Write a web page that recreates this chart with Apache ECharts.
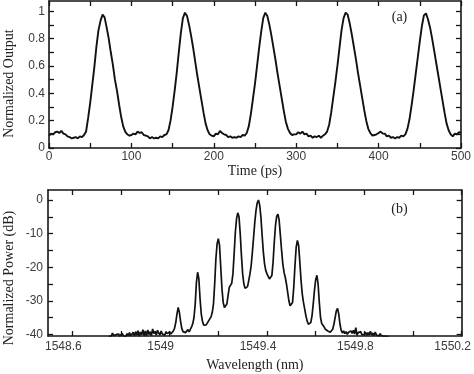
<!DOCTYPE html>
<html>
<head>
<meta charset="utf-8">
<script src="https://cdn.jsdelivr.net/npm/echarts@6/dist/echarts.min.js"></script>
<style>html,body{margin:0;padding:0;background:#fff;}#c{width:474px;height:374px;}</style>
</head>
<body>
<div id="c"></div>
<script>
// ---- (a) time trace ----
const timeStartPs = 0, timeStepPs = 2.5;
const outputNorm = [
0.09,0.105,0.10,0.115,0.12,0.11,0.125,0.105,0.10,0.085,
0.08,0.07,0.075,0.08,0.07,0.085,0.08,0.095,0.12,0.22,
0.33,0.46,0.59,0.74,0.86,0.93,0.975,0.955,0.88,0.80,
0.70,0.61,0.50,0.42,0.32,0.23,0.16,0.12,0.10,0.09,
0.095,0.105,0.10,0.12,0.11,0.115,0.095,0.09,0.085,0.07,
0.08,0.07,0.075,0.07,0.085,0.08,0.095,0.10,0.13,0.20,
0.30,0.42,0.55,0.70,0.84,0.95,0.99,0.965,0.90,0.82,
0.73,0.63,0.53,0.44,0.35,0.26,0.18,0.13,0.10,0.09,
0.085,0.105,0.10,0.125,0.11,0.10,0.095,0.08,0.085,0.075,
0.08,0.075,0.085,0.08,0.095,0.09,0.11,0.16,0.25,0.36,
0.47,0.60,0.73,0.85,0.95,0.99,0.965,0.90,0.82,0.73,
0.64,0.54,0.45,0.36,0.27,0.19,0.14,0.11,0.095,0.10,
0.10,0.115,0.105,0.12,0.10,0.105,0.085,0.09,0.075,0.085,
0.08,0.09,0.075,0.09,0.10,0.12,0.17,0.26,0.37,0.48,
0.60,0.73,0.86,0.95,0.99,0.975,0.91,0.83,0.74,0.65,
0.55,0.46,0.37,0.28,0.20,0.14,0.11,0.09,0.095,0.10,
0.11,0.12,0.105,0.105,0.085,0.09,0.075,0.08,0.07,0.08,
0.075,0.09,0.085,0.10,0.14,0.21,0.31,0.42,0.54,0.66,
0.78,0.89,0.97,0.985,0.94,0.88,0.80,0.71,0.62,0.53,
0.44,0.35,0.26,0.18,0.13,0.10,0.085,0.105,0.10,0.115,
0.11
];
// ---- (b) spectrum ----
const wlStartNm = 1548.75, wlStepNm = 0.005;
const powerDb = [
-40.6,-40.2,-40.5,-39.6,-40.4,-40.6,-40.1,-40.5,-39.9,-40.6,
-40.3,-39.7,-40.5,-40.0,-40.6,-39.8,-40.4,-39.5,-40.5,-40.1,
-39.4,-40.5,-39.2,-40.3,-38.9,-40.6,-39.3,-40.2,-38.6,-40.4,
-39.0,-40.5,-38.7,-40.1,-39.2,-40.4,-38.4,-39.8,-39.1,-40.3,
-38.8,-39.6,-40.2,-39.0,-39.9,-39.4,-40.3,-39.2,-39.8,-40.1,
-39.3,-39.9,-39.6,-39.0,-38.2,-36.5,-34.0,-32.0,-33.5,-36.2,
-38.3,-39.2,-38.7,-39.5,-39.0,-38.6,-39.3,-38.5,-37.8,-36.8,
-35.0,-31.0,-24.5,-21.5,-23.5,-29.5,-34.0,-36.2,-37.3,-37.6,
-37.2,-36.8,-36.0,-35.5,-34.8,-33.5,-31.0,-25.0,-17.5,-13.0,
-11.5,-13.5,-20.0,-26.5,-30.5,-32.0,-32.3,-31.0,-28.5,-26.0,
-25.5,-24.8,-22.0,-16.0,-9.5,-5.5,-3.8,-5.0,-10.0,-16.5,
-22.0,-25.0,-26.3,-26.5,-25.8,-24.0,-22.0,-19.5,-15.5,-11.0,
-6.5,-3.0,-0.8,0.0,-1.5,-5.0,-10.5,-15.5,-19.0,-21.0,
-22.0,-22.5,-23.5,-24.0,-22.5,-18.5,-12.5,-7.5,-4.8,-4.2,
-6.0,-10.5,-15.0,-19.0,-21.5,-23.0,-25.0,-27.5,-30.0,-31.5,
-31.8,-30.5,-26.0,-19.5,-14.0,-12.0,-13.5,-18.5,-24.0,-28.0,
-30.5,-32.5,-34.5,-36.0,-37.0,-37.3,-36.5,-34.5,-31.0,-27.0,
-23.8,-22.4,-25.0,-30.5,-35.0,-36.8,-37.2,-37.8,-38.5,-38.2,
-39.0,-38.6,-39.4,-39.0,-38.5,-37.0,-35.0,-33.0,-32.3,-34.0,
-37.0,-38.8,-39.6,-39.0,-39.8,-39.2,-40.0,-39.4,-39.9,-39.0,
-39.7,-38.8,-39.9,-38.0,-40.2,-39.5,-40.0,-39.2,-40.1,-39.6,
-40.0,-39.4,-40.3,-39.5,-40.2,-39.1,-40.3,-39.6,-40.4,-39.3,
-40.2,-39.7,-40.5,-39.8,-40.4,-40.0,-40.6,-40.2,-40.6,-40.5,
-40.7
];
// ---- ticks / labels ----
const timeTicks = [0,50,100,150,200,250,300,350,400,450,500];
const timeLabels = [0,100,200,300,400,500];
const outTicks = [0,0.1,0.2,0.3,0.4,0.5,0.6,0.7,0.8,0.9,1.0];
const outLabels = [0,0.2,0.4,0.6,0.8,1];
const wlTicks = [1548.6,1548.8,1549,1549.2,1549.4,1549.6,1549.8,1550,1550.2];
const wlLabels = [1548.6,1549,1549.4,1549.8,1550.2];
const dbTicks = [0,-5,-10,-15,-20,-25,-30,-35,-40];
const dbLabels = [0,-10,-20,-30,-40];

const traceA = outputNorm.map((v,i)=>[+(timeStartPs + i*timeStepPs).toFixed(3), v]);
const traceB = powerDb.map((v,i)=>[+(wlStartNm + i*wlStepNm).toFixed(4), v]);

const AX = '#151515';
function axis(gridIndex, position, min, max, ticks, labels, showLabels, labelExtra) {
  return {
    type:'value', gridIndex, position, min, max, scale:true,
    axisLine:{show:true, onZero:false, lineStyle:{color:AX, width:1.6}},
    axisTick:{show:true, inside:true, length:5, customValues:ticks, lineStyle:{color:AX, width:1.3}},
    axisLabel:Object.assign({show:showLabels, customValues:labels, color:'#3a3a3a',
      fontFamily:'Liberation Sans, Arial, sans-serif', fontSize:12,
      formatter:(v)=>String(v)}, labelExtra||{}),
    splitLine:{show:false}
  };
}

const chart = echarts.init(document.getElementById('c'), null, {renderer:'canvas'});
const serif = 'Liberation Serif, Times New Roman, serif';
const xa0 = axis(0,'bottom',0,500,timeTicks,timeLabels,true,{margin:3});
xa0.name = 'Time (ps)'; xa0.nameLocation='middle'; xa0.nameGap=9;
xa0.nameTextStyle = {fontFamily:serif, fontSize:14, color:'#222', verticalAlign:'top'};
const xa2 = axis(1,'bottom',1548.5,1550.2,wlTicks,wlLabels,true,{margin:5, padding:[0,18,0,0]});
xa2.name = 'Wavelength (nm)'; xa2.nameLocation='middle'; xa2.nameGap=22;
xa2.nameTextStyle = {fontFamily:serif, fontSize:14, color:'#222', verticalAlign:'top'};

chart.setOption({
  animation:false,
  backgroundColor:'#fff',
  grid:[
    {left:49, right:12, top:1, height:147},
    {left:48, right:12, top:190, height:146}
  ],
  xAxis:[
    xa0,
    axis(0,'top',0,500,timeTicks,[],false),
    xa2,
    axis(1,'top',1548.5,1550.2,wlTicks,[],false)
  ],
  yAxis:[
    axis(0,'left',0,1.075,outTicks,outLabels,true,{margin:4}),
    axis(0,'right',0,1.075,outTicks,[],false),
    axis(1,'left',-40.5,3,dbTicks,dbLabels,true,{margin:5}),
    axis(1,'right',-40.5,3,dbTicks,[],false)
  ],
  graphic:[
    {type:'text', x:9, y:83.5, rotation:Math.PI/2,
     style:{text:'Normalized Output', fontFamily:serif, fontSize:14, fill:'#222', align:'center', verticalAlign:'middle'}},
    {type:'text', x:9, y:278, rotation:Math.PI/2,
     style:{text:'Normalized Power (dB)', fontFamily:serif, fontSize:14, fill:'#222', align:'center', verticalAlign:'middle'}},
    {type:'text', x:399.5, y:17,
     style:{text:'(a)', fontFamily:serif, fontSize:14, fill:'#222', align:'center', verticalAlign:'middle'}},
    {type:'text', x:399.5, y:209,
     style:{text:'(b)', fontFamily:serif, fontSize:14, fill:'#222', align:'center', verticalAlign:'middle'}}
  ],
  series:[
    {type:'line', xAxisIndex:0, yAxisIndex:0, data:traceA, showSymbol:false, smooth:false,
     lineStyle:{color:'#111', width:1.9}},
    {type:'line', xAxisIndex:2, yAxisIndex:2, data:traceB, showSymbol:false, smooth:false,
     lineStyle:{color:'#111', width:1.7}}
  ]
});
</script>
</body>
</html>
